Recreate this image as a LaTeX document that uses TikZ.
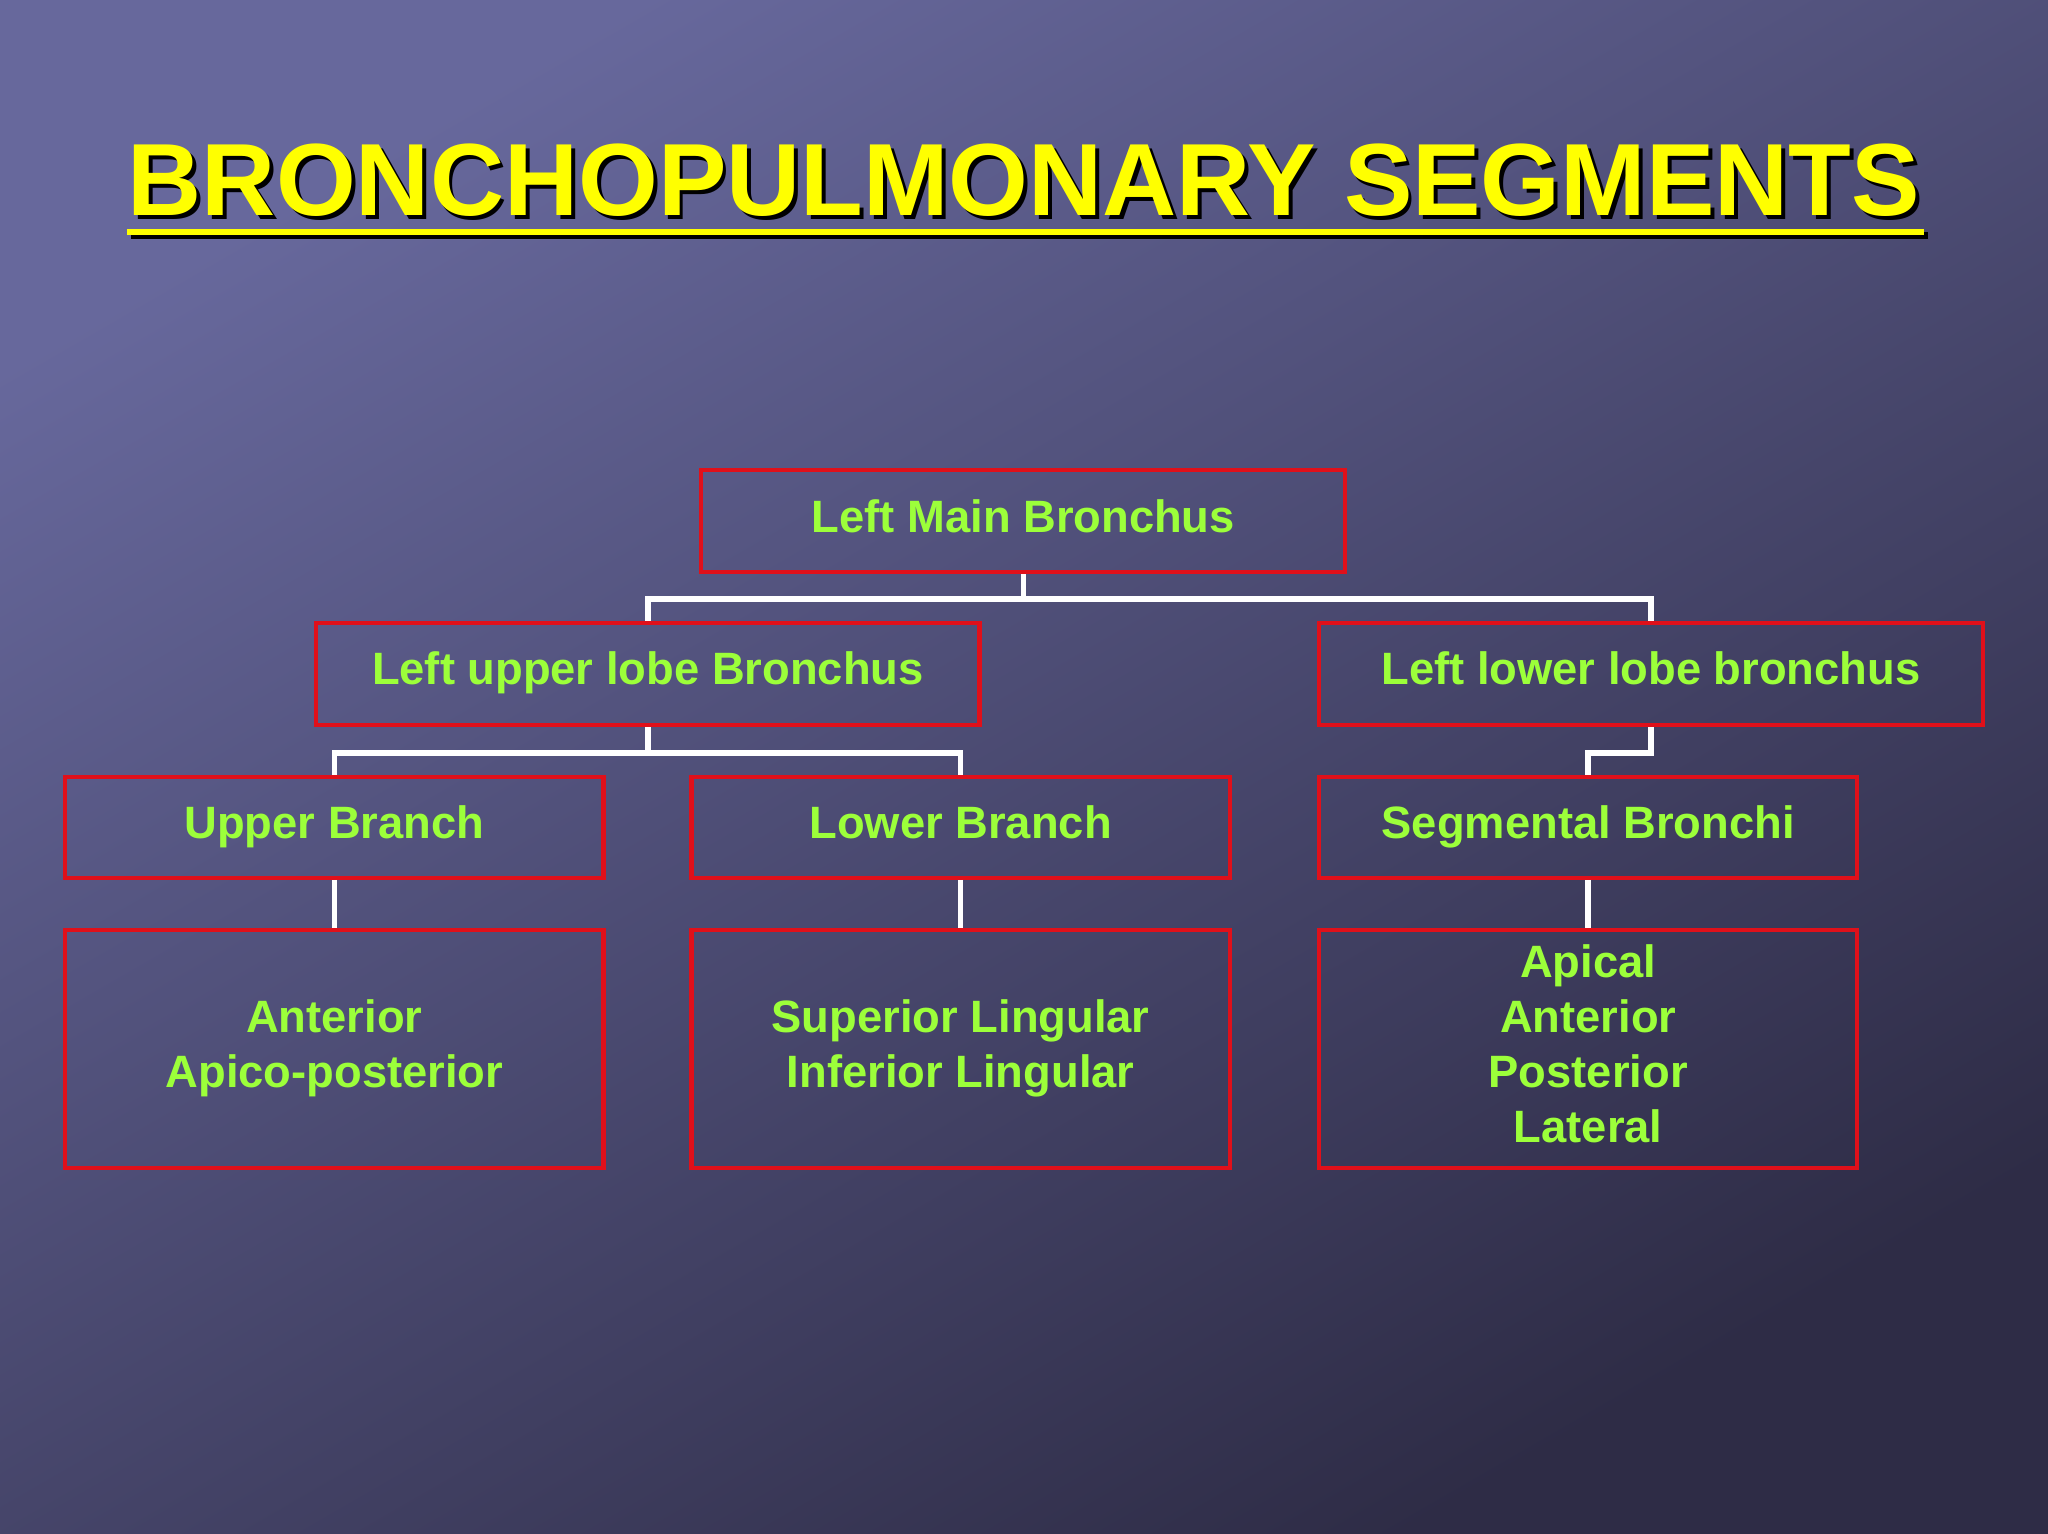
\documentclass[tikz,border=0pt]{standalone}
\usepackage{fontspec}
\setmainfont{Liberation Sans}
\usepackage{tikz}
\definecolor{bgtop}{HTML}{67689C}
\definecolor{bgbot}{HTML}{2E2C46}
\definecolor{segtext}{HTML}{9CFF3A}
\definecolor{titleyellow}{HTML}{FFFF00}
\definecolor{boxred}{HTML}{E0101A}
\begin{document}
\begin{tikzpicture}[x=0.01306cm,y=-0.01306cm,thick,
  seg box/.style={draw=boxred,line width=1.2pt,inner sep=0pt,align=center,
    text=segtext,font=\bfseries\fontsize{12.9}{15.6}\selectfont},
  branch/.style={draw=white,line width=1.6pt}]

  \shade[top color=bgtop,bottom color=bgbot,shading angle=30] (0,0) rectangle (1568,1174);
  \useasboundingbox (0,0) rectangle (1568,1174);

  % title with shadow
  \node[text=black,font=\bfseries\fontsize{29.2}{34}\selectfont] at (787,141) {BRONCHOPULMONARY SEGMENTS};
  \fill[black] (100,178) rectangle (1476,183);
  \node[text=titleyellow,font=\bfseries\fontsize{29.2}{34}\selectfont] (title) at (784,138) {BRONCHOPULMONARY SEGMENTS};
  \fill[titleyellow] (97,175) rectangle (1473,180);

  \node[seg box,minimum width=493*0.01306cm,minimum height=78*0.01306cm] (main) at (783.5,399) {\strut Left Main Bronchus};
  \node[seg box,minimum width=508*0.01306cm,minimum height=78*0.01306cm] (upper) at (496,516) {\strut Left upper lobe Bronchus};
  \node[seg box,minimum width=508*0.01306cm,minimum height=78*0.01306cm] (lower) at (1264,516) {\strut Left lower lobe bronchus};
  \node[seg box,minimum width=412*0.01306cm,minimum height=77*0.01306cm] (ub) at (256,633.5) {\strut Upper Branch};
  \node[seg box,minimum width=412*0.01306cm,minimum height=77*0.01306cm] (lb) at (735.5,633.5) {\strut Lower Branch};
  \node[seg box,minimum width=412*0.01306cm,minimum height=77*0.01306cm] (sb) at (1216,633.5) {\strut Segmental Bronchi};
  \node[seg box,minimum width=412*0.01306cm,minimum height=182*0.01306cm] (ubseg) at (256,803) {\strut Anterior\\\strut Apico-posterior};
  \node[seg box,minimum width=412*0.01306cm,minimum height=182*0.01306cm] (lbseg) at (735.5,803) {\strut Superior Lingular\\\strut Inferior Lingular};
  \node[seg box,minimum width=412*0.01306cm,minimum height=182*0.01306cm] (sbseg) at (1216,803) {\strut Apical\\\strut Anterior\\\strut Posterior\\\strut Lateral};

  \draw[branch] (main.south) -- ++(0,19) -| (upper.north);
  \draw[branch] (main.south) ++(0,19) -| (lower.north);
  \draw[branch] (upper.south) -- ++(0,20) -| (ub.north);
  \draw[branch] (upper.south) ++(0,20) -| (lb.north);
  \draw[branch] (lower.south) -- ++(0,20) -| (sb.north);
  \draw[branch] (ub) -- (ubseg);
  \draw[branch] (lb) -- (lbseg);
  \draw[branch] (sb) -- (sbseg);
\end{tikzpicture}
\end{document}
